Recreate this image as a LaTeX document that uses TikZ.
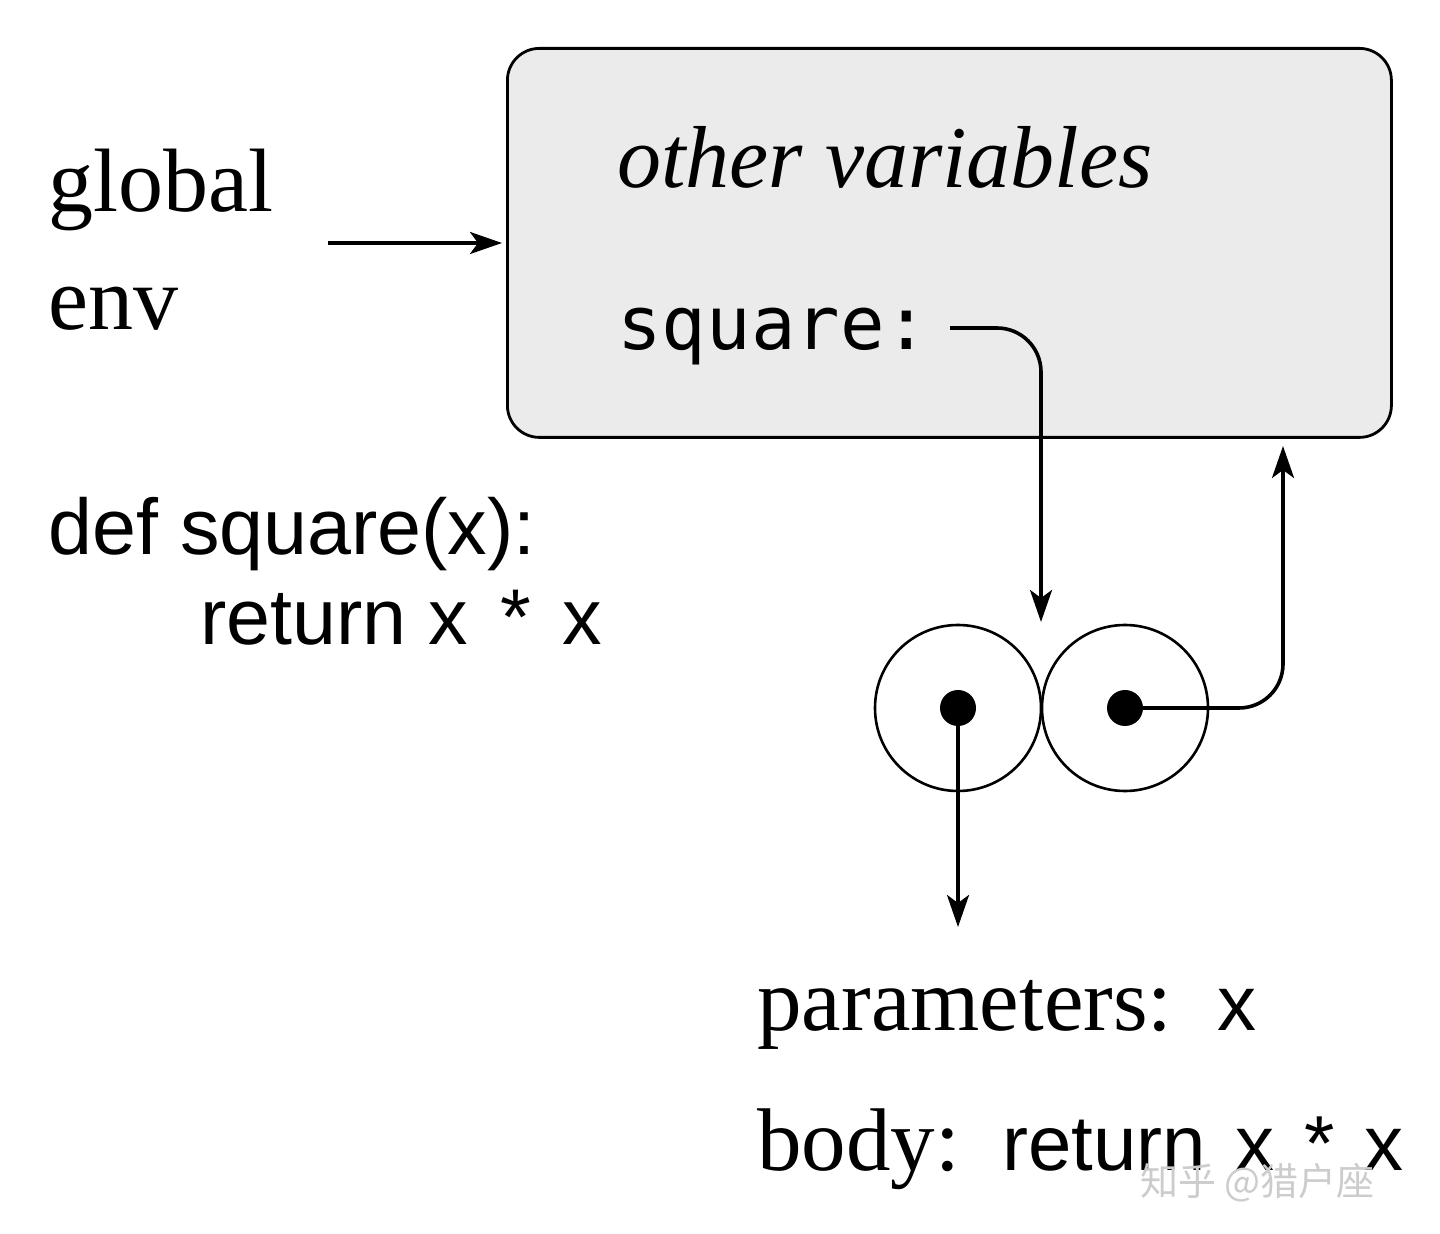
\documentclass[tikz,border=0pt]{standalone}
\usepackage{fontspec}
\setmainfont{Liberation Serif}
\newfontfamily\sansf{Liberation Sans}
\newfontfamily\monof{DejaVu Sans Mono}
\newfontfamily\cjk{Noto Sans CJK SC}
\usetikzlibrary{arrows.meta}
\begin{document}
\begin{tikzpicture}[x=0.5pt,y=-0.5pt,
  arr/.style={line width=1.8pt,-{Stealth[length=16pt,width=11pt,inset=4pt]}},
  txt/.style={anchor=base west,inner sep=0pt},
  circ/.style={circle,draw,line width=1.3pt,minimum size=83pt,inner sep=0pt},
  dot/.style={circle,fill=black,minimum size=18pt,inner sep=0pt}]
\useasboundingbox (0,0) rectangle (1440,1234);
\node[draw,line width=1.4pt,fill=black!8,rounded corners=16pt,minimum width=442pt,minimum height=194.5pt,anchor=north west,inner sep=0pt] (box) at (506,47) {};
\node[txt,font=\fontsize{44}{50}\selectfont\itshape] (ov) at (617,188) {other variables};
\node[txt,font=\fontsize{37}{40}\monof] (sq) at (617,350) {square:};
\node[txt,font=\fontsize{45}{50}\selectfont] (gl) at (48,212) {global};
\node[txt,font=\fontsize{45}{50}\selectfont] (env) at (48,330) {env};
\node[txt,font=\fontsize{39.5}{42}\sansf] (def) at (48,555) {def square(x):};
\node[txt,font=\fontsize{39.5}{42}\sansf] (ret) at (200,645) {return x\hspace{5pt} *\hspace{5pt} x};
\node[circ] (c1) at (958,708) {};
\node[circ] (c2) at (1125,708) {};
\node[dot] (d1) at (958,708) {};
\node[dot] (d2) at (1125,708) {};
\node[txt,font=\fontsize{44.5}{50}\selectfont] (par) at (757,1030) {parameters:\ \ {\sansf\fontsize{39}{40}\selectfont x}};
\node[txt,font=\fontsize{44.5}{50}\selectfont] (body) at (757,1170) {body:\hspace{21pt}{\sansf\fontsize{39}{40}\selectfont return\hspace{4pt} x\hspace{4pt} *\hspace{4pt} x}};
\node[txt,font=\fontsize{19}{22}\cjk,text=black!20] (wm) at (1140,1195) {知乎 @猎户座};
\coordinate (ga) at (328,243);
\coordinate (gb) at (502,243);
\coordinate (s0) at (950,328);
\coordinate (s1) at (1041,622);
\coordinate (b1) at (958,927);
\coordinate (u1) at (1283,446);
\draw[arr] (ga) -- (gb);
\draw[arr,rounded corners=22pt] (s0) -| (s1);
\draw[arr] (d1.center) -- (b1);
\draw[arr,rounded corners=22pt] (d2.center) -| (u1);
\end{tikzpicture}
\end{document}
